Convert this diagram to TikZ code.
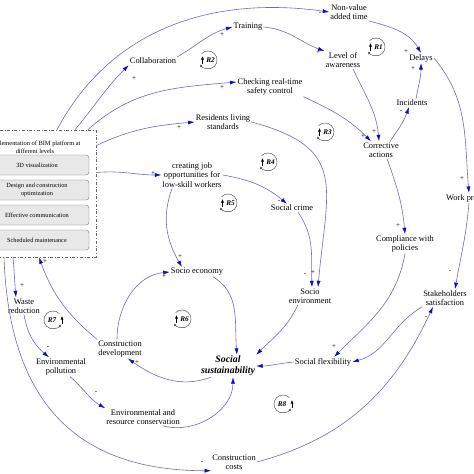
\documentclass[tikz,border=0pt]{standalone}
\usepackage{fontspec}
\setmainfont{Liberation Serif}
\usetikzlibrary{arrows.meta}
\definecolor{linkblue}{RGB}{108,104,205}
\definecolor{tipblue}{RGB}{10,10,200}
\tikzset{
  var/.style={font=\fontsize{8.4}{9.4}\selectfont, align=center, inner sep=1pt},
  sign/.style={font=\fontsize{7}{7}\selectfont, inner sep=0pt},
  link/.style={draw=linkblue, line width=0.6pt, -{Latex[length=6.5pt,width=4pt,color=tipblue]}},
  loopname/.style={font=\fontsize{7.2}{8}\selectfont\bfseries\itshape, inner sep=0pt},
  looparc/.style={draw=black!75, line width=0.4pt, -{Latex[length=2.5pt,width=2.5pt]}},
  uparrow/.style={draw=black, line width=0.6pt, -{Latex[length=3.5pt,width=3pt]}},
  levelbox/.style={draw=black!55, fill=black!9, rounded corners=3pt, minimum width=104pt,
    minimum height=20pt, align=center, font=\fontsize{6.3}{7.4}\selectfont, inner sep=1pt},
}
\begin{document}
\begin{tikzpicture}[x=1pt,y=1pt]
        \useasboundingbox (0,0) rectangle (474,-474);
        \clip (0,0) rectangle (474,-474);

        % BIM platform box
        \node[draw=black!60, dash dot, line width=0.7pt, minimum width=120pt, minimum height=127pt] (bim) at (36,-193.5) {};
        \node[font=\fontsize{6.4}{7.6}\selectfont, align=center] (bimtitle) at (35,-147) {Implementation of BIM platform at\\different levels};
        \node[levelbox] (lv1) at (37,-165) {3D visualization};
        \node[levelbox] (lv2) at (37,-190) {Design and construction\\optimization};
        \node[levelbox] (lv3) at (37,-215) {Effective communication};
        \node[levelbox] (lv4) at (37,-240) {Scheduled maintenance};

        % variables
        \node[var] (nva) at (349,-12) {Non-value\\added time};
        \node[var] (train) at (248,-27) {Training};
        \node[var] (collab) at (153,-61) {Collaboration};
        \node[var] (aware) at (343,-60) {Level of\\awareness};
        \node[var] (delays) at (421,-58) {Delays};
        \node[var] (check) at (270,-87) {Checking real-time\\safety control};
        \node[var] (incid) at (412,-103) {Incidents};
        \node[var] (resid) at (223,-122) {Residents living\\standards};
        \node[var] (correct) at (381,-150) {Corrective\\actions};
        \node[var] (jobs) at (192,-175) {creating job\\opportunities for\\low-skill workers};
        \node[var] (crime) at (292,-208) {Social crime};
        \node[var, anchor=west] (work) at (445,-198) {Work progress};
        \node[var] (comply) at (405,-244) {Compliance with\\policies};
        \node[var] (seco) at (197,-272) {Socio economy};
        \node[var] (senv) at (310,-296) {Socio\\environment};
        \node[var] (stake) at (445,-298) {Stakeholders\\satisfaction};
        \node[var] (waste) at (24,-306) {Waste\\reduction};
        \node[var] (cdev) at (120,-349) {Construction\\development};
        \node[var, font=\fontsize{9.8}{11}\selectfont\bfseries\itshape] (social) at (228,-366) {Social\\sustainability};
        \node[var] (flex) at (323,-362) {Social flexibility};
        \node[var] (pollu) at (61,-367) {Environmental\\pollution};
        \node[var] (envres) at (143,-417) {Environmental and\\resource conservation};
        \node[var] (costs) at (234,-462) {Construction\\costs};

        % links out of the BIM box
        \draw[link] ([xshift=21pt]bim.north) to[out=62,in=172] (nva.west);
        \draw[link] ([xshift=39pt]bim.north) to[out=50,in=-135] (collab.south west);
        \draw[link] ([xshift=52pt]bim.north) to[out=42,in=185] ([yshift=5pt]check.west);
        \draw[link] ([yshift=48pt]bim.east) to[out=25,in=185] (resid.west);
        \draw[link] ([yshift=21pt]bim.east) to[out=5,in=180] (jobs.west);
        \draw[link] ([xshift=-23pt]bim.south) to[out=-85,in=95] ([xshift=-8pt]waste.north);
        \draw[link] ([xshift=-32pt]bim.south) to[out=-88,in=180,looseness=1.2] (costs.south west);

        % upper loops
        \draw[link] (collab.north east) to[out=30,in=195] (train.west);
        \draw[link] (train.east) to[out=-5,in=160] (aware.north west);
        \draw[link] (nva.south east) to[out=-15,in=120] (delays.north);
        \draw[link] ([xshift=10pt]aware.south) to[out=-65,in=95] ([xshift=-2pt]correct.north);
        \draw[link] (check.south east) to[out=-25,in=135] ([xshift=-10pt]correct.north);
        \draw[link] ([xshift=9pt]correct.north) to[out=55,in=-110] ([xshift=-3pt]incid.south);
        \draw[link] ([xshift=4pt]incid.north) to[out=80,in=-90] (delays.south);
        \draw[link] (delays.east) to[out=-50,in=95] ([xshift=24pt]work.north west);
        \draw[link] ([xshift=24pt]work.south west) to[out=-95,in=80] ([xshift=10pt]stake.north);
        \draw[link] ([xshift=6pt]correct.south) to[out=-70,in=95] (comply.north);
        \draw[link] (comply.south) to[out=-100,in=45] ([xshift=11pt]flex.north);
        \draw[link] (stake.south west) to[out=-150,in=15] (flex.east);
        \draw[link] (costs.east) to[out=15,in=-115] ([xshift=-12pt]stake.south);

        % middle loops
        \draw[link] (jobs.east) to[out=-10,in=140] ([xshift=-5pt]crime.north);
        \draw[link] ([xshift=-20pt]jobs.south) to[out=-110,in=120] ([xshift=-15pt]seco.north);
        \draw[link] (resid.east) to[out=-15,in=85,looseness=1.45] ([xshift=8pt]senv.north);
        \draw[link] ([xshift=6pt]crime.south) to[out=-55,in=92] ([xshift=2pt]senv.north);
        \draw[link] ([xshift=16pt]seco.south) to[out=-30,in=95] ([xshift=9pt]social.north);
        \draw[link] ([xshift=-12pt]senv.south) to[out=-115,in=45] (social.north east);
        \draw[link] (flex.west) to[out=185,in=0] (social.east);
        \draw[link] ([xshift=-17pt]social.south) to[out=-160,in=-35] ([xshift=8pt]cdev.south);
        \draw[link] ([xshift=-3pt]cdev.north) to[out=90,in=185] (seco.west);
        \draw[link] (cdev.north west) to[out=140,in=-70] ([xshift=3pt]bim.south);

        % lower left chain
        \draw[link] (waste.south) to[out=-80,in=140] ([xshift=-12pt]pollu.north);
        \draw[link] ([xshift=9pt]pollu.south) to[out=-40,in=150] (envres.north west);
        \draw[link] ([xshift=20pt]envres.south) to[out=-15,in=-90] ([xshift=5pt]social.south);

        % polarity signs
        \node[sign] (s1) at (320,-14) {-};
        \node[sign] (s2) at (134,-79) {+};
        \node[sign] (s3) at (222,-35) {+};
        \node[sign] (s4) at (222,-88) {+};
        \node[sign] (s5) at (318,-53) {+};
        \node[sign] (s6) at (406,-52) {+};
        \node[sign] (s7) at (374,-132) {+};
        \node[sign] (s8) at (363,-137) {+};
        \node[sign] (s9) at (401,-112) {-};
        \node[sign] (s10) at (413,-69) {+};
        \node[sign] (s11) at (462,-179) {+};
        \node[sign] (s12) at (450,-272) {-};
        \node[sign] (s13) at (398,-226) {+};
        \node[sign] (s14) at (334,-347) {+};
        \node[sign] (s15) at (426,-318) {-};
        \node[sign] (s16) at (179,-128) {+};
        \node[sign] (s17) at (153,-174) {+};
        \node[sign] (s18) at (279,-202) {-};
        \node[sign] (s19) at (180,-257) {+};
        \node[sign] (s20) at (164,-277) {+};
        \node[sign] (s21) at (305,-275) {-};
        \node[sign] (s22) at (313,-273) {+};
        \node[sign] (s23) at (137,-363) {+};
        \node[sign] (s24) at (45,-262) {+};
        \node[sign] (s25) at (22,-286) {+};
        \node[sign] (s26) at (48,-348) {-};
        \node[sign] (s27) at (96,-393) {-};
        \node[sign] (s28) at (202,-463) {-};

        % loop markers
        \foreach \lbl/\cx/\cy in {R1/376/47, R2/208/60, R3/325/132, R4/268/162, R5/228/203, R6/182/319}{
          \coordinate (c\lbl) at (\cx,-\cy);
          \node[loopname, xshift=2.5pt] (\lbl) at (c\lbl) {\lbl};
          \draw[looparc] ([shift={(135:9)}]c\lbl) arc[start angle=135, end angle=-150, radius=9];
          \draw[uparrow] ([shift={(-5.5,-4)}]c\lbl) -- ([shift={(-5.5,4)}]c\lbl);
        }
        \foreach \lbl/\cx/\cy in {R7/53/320, R8/283/404}{
          \coordinate (c\lbl) at (\cx,-\cy);
          \node[loopname, xshift=-1pt] (\lbl) at (c\lbl) {\lbl};
          \draw[looparc] ([shift={(45:9)}]c\lbl) arc[start angle=45, end angle=330, radius=9];
          \draw[uparrow] ([shift={(9,-4)}]c\lbl) -- ([shift={(9,4)}]c\lbl);
        }
\end{tikzpicture}
\end{document}
